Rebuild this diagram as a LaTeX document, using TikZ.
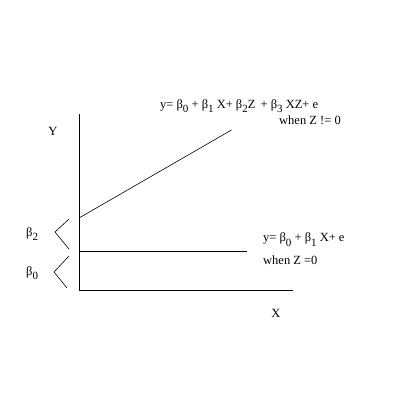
\documentclass[tikz,border=0pt]{standalone}
\usepackage{fontspec}
\setmainfont{Liberation Serif}
\newcommand\mysb[1]{\raisebox{-4.5bp}{\fontsize{11bp}{12bp}\selectfont #1}}
\begin{document}
\begin{tikzpicture}[x=1bp,y=-1bp,
  lbl/.style={inner sep=0pt,font=\fontsize{12.5bp}{14bp}\selectfont},
  ln/.style={line width=1pt},
  thin/.style={line width=0.6pt}]
\useasboundingbox[fill=white] (0,0) rectangle (400,400);
% axes
\coordinate (o) at (79,290.5);
\coordinate (ytop) at (79,114);
\coordinate (xend) at (293,290.5);
\draw[ln] (ytop) -- (o) -- (xend);
% lines
\coordinate (h0) at (79,251.5);
\coordinate (h1) at (247,251.5);
\draw[ln] (h0) -- (h1);
\coordinate (s0) at (79,218);
\coordinate (s1) at (231.5,130);
\draw[thin] (s0) -- (s1);
% braces
\coordinate (b2t) at (69,219);
\coordinate (b2m) at (55,232);
\coordinate (b2b) at (69,249);
\draw[thin] (b2t) -- (b2m) -- (b2b);
\coordinate (b0t) at (69,256);
\coordinate (b0m) at (54,272);
\coordinate (b0b) at (67,288);
\draw[thin] (b0t) -- (b0m) -- (b0b);
% labels
\node[lbl] (ylab) at (53,131) {Y};
\node[lbl] (xlab) at (276,313) {X};
\node[lbl,anchor=base west] (beta2) at (26,236) {β\mysb{2}};
\node[lbl,anchor=base west] (beta0) at (26,275) {β\mysb{0}};
\node[lbl,anchor=base west] (eq1) at (160,108) {y= β\mysb{0} + β\mysb{1} X+ β\mysb{2}Z \,+ β\mysb{3} XZ+ e};
\node[lbl,anchor=base west] (w1) at (279,124.5) {when Z != 0};
\node[lbl,anchor=base west] (eq2) at (263,241.5) {y= β\mysb{0} + β\mysb{1} X+ e};
\node[lbl,anchor=base west] (w2) at (263,264.5) {when Z =0};
\end{tikzpicture}
\end{document}
